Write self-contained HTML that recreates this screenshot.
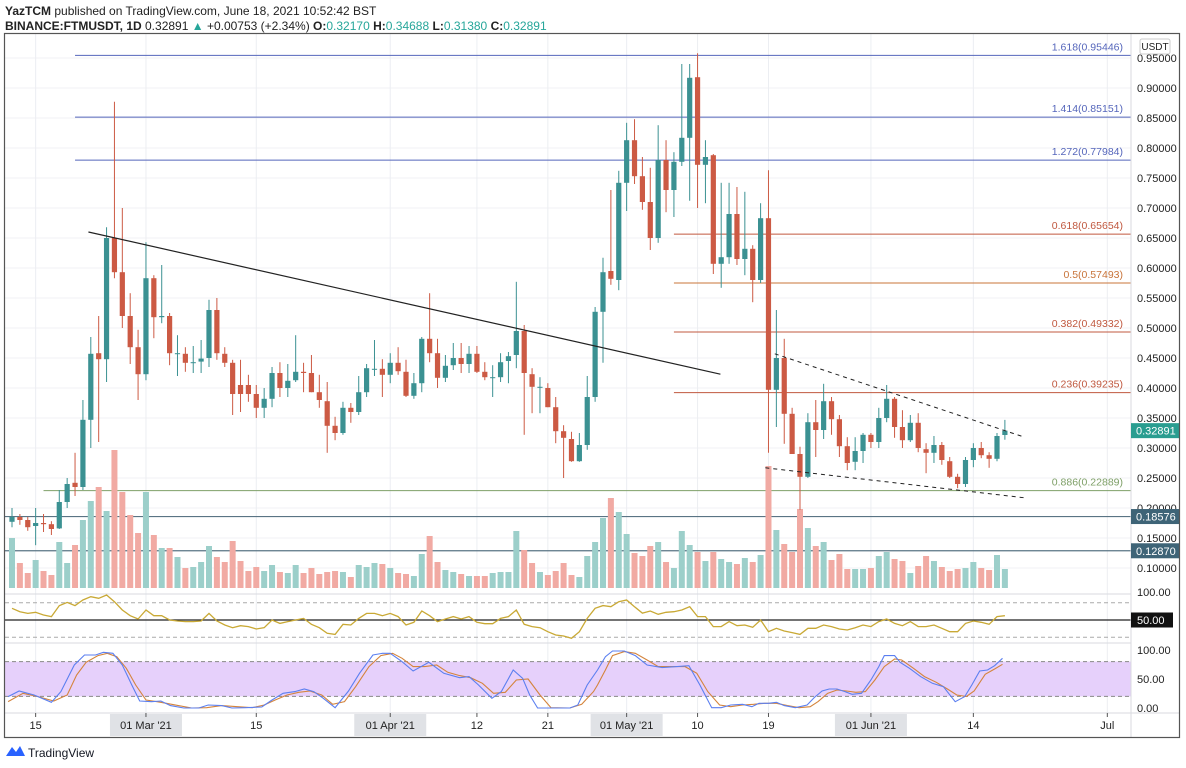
<!DOCTYPE html>
<html><head><meta charset="utf-8"><style>
html,body{margin:0;padding:0;background:#fff;width:1186px;height:768px;overflow:hidden;font-family:"Liberation Sans",sans-serif}
svg{display:block}
</style></head><body>
<svg id="chart" width="1186" height="768" viewBox="0 0 1186 768" xmlns="http://www.w3.org/2000/svg" font-family="Liberation Sans, sans-serif">
<text x="5" y="15" font-size="12" fill="#222"><tspan font-weight="bold">YazTCM</tspan> published on TradingView.com, June 18, 2021 10:52:42 BST</text>
<text x="5" y="30" font-size="12" fill="#222"><tspan font-weight="bold">BINANCE:FTMUSDT, 1D</tspan> 0.32891 <tspan fill="#26a69a">▲</tspan> +0.00753 (+2.34%) <tspan font-weight="bold">O:</tspan><tspan fill="#26a69a">0.32170</tspan> <tspan font-weight="bold">H:</tspan><tspan fill="#26a69a">0.34688</tspan> <tspan font-weight="bold">L:</tspan><tspan fill="#26a69a">0.31380</tspan> <tspan font-weight="bold">C:</tspan><tspan fill="#26a69a">0.32891</tspan></text>
<g id="grid"></g>
<g id="levels"></g>
<g id="vol"></g>
<g id="candles"></g>
<g id="lines"></g>
<g id="panes"></g>
<g id="axes"></g>
<rect x="4.5" y="33.5" width="1175" height="704" fill="none" stroke="#555" stroke-width="1.2"/>
<g>
<path d="M6 756 L12 747 L16 752 L20 746 L25 756 Z" fill="#2962ff"/>
<text x="28" y="757" font-size="12" fill="#131722">TradingView</text>
</g>
</svg>
<script>
// ---------- data ----------
const opens=[.177,.185,.180,.170,.175,.173,.166,.21,.242,.235,.347,.458,.448,.65,.593,.52,.468,.423,.583,.518,.52,.458,.457,.443,.444,.45,.53,.457,.442,.405,.405,.39,.367,.382,.425,.40,.413,.427,.425,.393,.378,.337,.325,.367,.36,.393,.432,.432,.422,.442,.427,.387,.408,.482,.458,.417,.438,.45,.44,.457,.427,.418,.418,.445,.455,.495,.423,.402,.40,.368,.328,.315,.278,.305,.385,.527,.595,.58,.742,.813,.753,.71,.65,.78,.73,.777,.817,.918,.772,.788,.607,.618,.69,.615,.632,.58,.683,.397,.45,.357,.29,.252,.343,.33,.378,.348,.303,.277,.295,.322,.31,.35,.382,.335,.313,.342,.298,.292,.305,.278,.252,.24,.28,.30,.288,.282,.3217];
const highs=[.20,.19,.185,.20,.19,.178,.23,.25,.292,.38,.485,.52,.668,.877,.70,.558,.497,.643,.588,.605,.525,.488,.468,.47,.48,.547,.55,.468,.447,.447,.422,.405,.40,.435,.443,.44,.488,.442,.455,.422,.41,.352,.377,.375,.42,.44,.48,.448,.458,.468,.447,.425,.485,.558,.482,.455,.475,.475,.47,.47,.443,.438,.458,.46,.577,.505,.433,.418,.408,.385,.338,.327,.325,.42,.535,.617,.73,.762,.842,.848,.785,.767,.838,.813,.793,.94,.94,.958,.813,.79,.742,.742,.735,.727,.638,.708,.763,.53,.482,.367,.302,.358,.38,.407,.385,.355,.318,.318,.325,.325,.367,.405,.385,.363,.355,.358,.308,.32,.31,.285,.257,.285,.308,.31,.293,.325,.34688];
const lows=[.168,.172,.162,.138,.16,.155,.165,.20,.22,.23,.30,.31,.41,.583,.50,.44,.38,.413,.483,.508,.438,.42,.427,.425,.425,.435,.447,.435,.355,.36,.377,.35,.35,.368,.385,.385,.41,.393,.393,.367,.292,.313,.322,.342,.355,.385,.42,.385,.408,.422,.385,.382,.393,.443,.40,.41,.43,.425,.425,.425,.413,.385,.41,.408,.433,.322,.358,.358,.368,.308,.25,.277,.277,.297,.377,.442,.572,.563,.695,.74,.697,.63,.642,.693,.685,.77,.712,.70,.708,.59,.567,.607,.605,.588,.543,.575,.292,.335,.307,.29,.197,.25,.285,.315,.322,.285,.263,.263,.275,.30,.30,.343,.317,.30,.31,.293,.258,.275,.272,.25,.233,.235,.268,.283,.267,.278,.3138];
const closes=[.185,.180,.168,.175,.173,.165,.21,.24,.235,.347,.457,.448,.65,.593,.52,.468,.423,.583,.518,.52,.458,.458,.442,.443,.449,.53,.458,.442,.39,.39,.39,.367,.382,.425,.40,.412,.427,.425,.393,.38,.337,.325,.367,.36,.393,.433,.432,.422,.442,.428,.387,.408,.482,.458,.417,.437,.45,.44,.457,.427,.418,.418,.443,.453,.495,.425,.402,.402,.368,.328,.317,.278,.305,.385,.527,.593,.582,.742,.813,.753,.71,.65,.78,.73,.777,.817,.917,.772,.785,.607,.618,.69,.615,.632,.58,.683,.397,.45,.357,.29,.252,.343,.33,.378,.348,.303,.275,.295,.322,.31,.35,.382,.335,.313,.342,.30,.292,.305,.28,.252,.24,.28,.30,.288,.282,.32,.32891];
const volumes=[50,25,15,28,17,13,46,25,43,68,87,101,77,138,96,73,55,96,53,40,40,31,20,21,26,42,31,26,47,27,17,21,17,23,16,15,23,15,20,14,16,17,16,11,23,21,25,24,20,15,14,12,34,52,26,18,16,14,12,12,12,15,16,16,57,38,25,16,13,17,25,13,11,32,46,70,90,76,54,35,32,42,46,26,20,57,43,36,27,36,29,26,24,30,26,33,122,58,44,36,79,60,42,46,28,34,19,19,19,20,32,36,29,27,15,22,32,27,21,17,19,20,26,20,18,33,19];
const rsiValues=[63.6,59.7,57.7,58.9,55.8,53.9,66.7,70.5,66.7,73.3,77.1,75.2,79.1,71.3,61.6,55.0,51.2,61.6,55.0,55.0,50.0,48.8,48.1,48.1,48.8,57.7,48.8,44.2,41.1,43.4,42.3,39.5,41.1,50.0,46.1,48.1,50.0,51.9,45.0,41.1,34.5,33.3,45.0,44.2,51.9,57.7,57.7,55.0,57.7,53.9,44.2,47.3,60.5,55.0,48.1,51.2,53.9,51.2,53.9,47.3,45.7,45.7,51.9,53.9,61.6,45.0,42.3,41.1,36.4,32.6,31.4,28.7,36.4,51.9,63.6,66.7,65.5,71.3,73.3,65.5,58,60.5,56.6,58.9,59.7,61.6,65.5,53.9,53.9,42.3,42.3,48.1,43.4,44.2,41.5,50.0,36.4,40.3,37.2,35.3,33.3,40.3,40.3,44.2,42.3,39.5,38.4,41.1,44.2,42.3,48.1,51.2,46.1,43.4,48.1,42.3,42.3,44.2,40.3,36.4,36.4,46.1,48.8,47.3,45.0,53.9,55.0];
const stochKDay=[-0.8,0.9,2.8,5.0,6.2,7.9,9.2,10.6,11.6,12.8,14.0,15.2,16.2,17.7,18.9,20.1,21.8,23.7,24.9,26.6,27.9,29.6,31.7,33.0,34.4,35.9,37.1,38.3,39.5,41.0,42.7,44.1,45.8,47.0,48.0,49.5,50.9,52.9,54.8,56.8,58.0,59.2,60.9,62.1,63.6,64.8,65.7,66.7,68.7,70.8,71.8,73.0,74.3,75.3,76.2,77.7,79.1,80.6,82.5,84.4,85.9,87.3,88.8,90.0,91.2,92.7,93.9,94.8,96.0,97.0,98.0,99.4,100.9,101.8,102.8,103.7,104.7,105.7,106.6,107.8,109.0,110.0,110.7,112.0,112.7,113.9,115.3,116.8,118.2,119.7,120.9,121.8,122.8,123.8,124.7,125.7];
const stochK=[19.6,29.3,22.4,9.8,28.2,74.2,91.4,91.4,96.0,94.3,74.2,39.7,12.1,10.9,12.1,4.1,0,0,5.2,4.1,0,0.6,1.8,13.8,25.3,28.2,32.8,28.2,16.7,0.6,29.3,59.8,91.4,94.3,94.3,79.9,63.8,78.8,59.8,52.3,54.1,39.7,16.7,28.2,65.6,51.2,22.4,0,0,0,5.2,39.7,65.6,88.5,98.3,98.3,90.3,74.2,69.6,71.3,73.0,39.7,0.6,0.6,5.2,6.4,2.3,8.1,8.1,9.8,4.1,0.6,5.2,17.9,29.3,32.8,32.8,28.2,23.6,25.3,48.3,71.3,90.3,90.3,78.8,68.4,54.1,42.6,36.8,10.9,19.6,39.7,63.8,65.6,73.0,85.7];
const stochDDay=[-0.8,1.4,3.3,5.3,7.0,8.2,9.4,10.9,12.1,13.3,14.5,15.7,17.0,18.4,19.6,21.1,22.8,24.7,26.6,28.6,30.5,32.0,33.4,34.9,36.4,37.8,39.3,40.7,42.2,43.6,45.3,46.8,48.3,49.5,50.9,52.4,53.9,55.3,56.8,58.2,59.7,61.1,62.6,64.0,65.5,67.0,68.4,70.8,72.3,73.8,74.3,75.3,76.2,77.7,79.1,80.6,82.0,84.0,85.4,86.9,88.3,89.8,91.2,92.7,94.1,95.5,97.0,98.4,99.9,101.3,102.3,103.5,104.7,105.9,107.1,108.3,109.5,110.7,112.0,112.9,114.4,115.8,117.3,118.7,119.9,121.1,122.1,123.5,124.7,125.7];
const stochD=[11.0,25.3,19.6,12.1,22.4,56.9,78.8,90.3,94.3,88.5,68.4,39.7,13.8,10.9,8.1,4.1,0,0.6,4.1,2.3,0.6,5.2,13.8,22.4,27.0,29.3,22.4,6.4,11.0,36.8,71.3,90.3,94.3,85.7,71.3,71.3,74.2,61.5,55.8,52.3,42.6,25.3,27.0,48.3,50.0,22.4,0.6,0,6.4,28.2,39.7,65.6,90.3,97.2,94.3,82.8,71.3,71.3,71.3,59.8,28.2,5.2,2.3,5.2,6.4,8.1,8.1,4.1,0.6,2.3,11.0,25.3,31.1,29.3,27.0,28.2,48.3,71.3,84.5,82.8,68.4,54.1,44.3,32.8,22.4,19.6,29.3,58.1,67.3,75.3];
const priceTicks=[0.95,0.90,0.85,0.80,0.75,0.70,0.65,0.60,0.55,0.50,0.45,0.40,0.35,0.30,0.25,0.20,0.15,0.10];
const dateLabels=["15","01 Mar '21","15","01 Apr '21","12","21","01 May '21","10","19","01 Jun '21","14","Jul"];
const dateDays=[3,17,31,48,59,68,78,87,96,109,122,139];
const fibNames=["1.618","1.414","1.272","0.618","0.5","0.382","0.236","0.886"];
const fibPrices=[0.95446,0.85151,0.77984,0.65654,0.57493,0.49332,0.39235,0.22889];
const fibStartDay=[8,8,8,84,84,84,84,4];
const supportPrices=[0.18576,0.12870];
const lastPrice=0.32891;

// ---------- scales ----------
const X0=12, DX=7.88, AXIS_X=1131;
const xs=d=>X0+d*DX;
const ys=p=>58+(0.95-p)*600;
const yRsi=v=>620-(v-50)*0.86;
const ySt=v=>708-v*0.58;
const NS="http://www.w3.org/2000/svg";
function mk(tag,attrs,parent){const e=document.createElementNS(NS,tag);for(const k in attrs)e.setAttribute(k,attrs[k]);parent.appendChild(e);return e;}
const G=id=>document.getElementById(id);
const fmt=v=>v.toFixed(5);

// grid
const grid=G('grid');
priceTicks.forEach(p=>{const l=mk('line',{x1:5,x2:AXIS_X,y1:ys(p),y2:ys(p),stroke:'#f0f1f4','stroke-width':1},grid);

});
dateDays.forEach(d=>{const l=mk('line',{x1:xs(d),x2:xs(d),y1:34,y2:713,stroke:'#eceef2','stroke-width':1},grid);

});

// levels
const lv=G('levels');
const fibColors=['#5566bb','#5566bb','#5566bb','#c0583f','#c8743a','#c0583f','#c0583f','#7fa068'];
fibPrices.forEach((p,i)=>{
 const l=mk('line',{x1:xs(fibStartDay[i]),x2:AXIS_X,y1:ys(p),y2:ys(p),stroke:fibColors[i],'stroke-width':1},lv);
 
 
 const t=mk('text',{x:1123,y:ys(p)-5,'text-anchor':'end','font-size':10.5,fill:fibColors[i]},lv);
 t.textContent=fibNames[i]+'('+fmt(p)+')';
 
 
});
supportPrices.forEach(p=>{
 const l=mk('line',{x1:5,x2:AXIS_X,y1:ys(p),y2:ys(p),stroke:'#5a7484','stroke-width':1.2},lv);
 
 
});

// volume
const vg=G('vol');
volumes.forEach((v,i)=>{
 const up=closes[i]>=opens[i];
 const r=mk('rect',{x:xs(i)-3,y:588-v,width:6,height:v,fill:up?'#9ccfca':'#f1aaa3'},vg);
 
 
});

// candles
const cg=G('candles');
opens.forEach((o,i)=>{
 const c=closes[i],up=c>=o,col=up?'#3b9192':'#cc5a44',x=xs(i);
 const g=mk('g',{},cg);
 
 
 mk('line',{x1:x,x2:x,y1:ys(highs[i]),y2:ys(lows[i]),stroke:col,'stroke-width':1},g);
 const top=ys(Math.max(o,c)),bot=ys(Math.min(o,c));
 mk('rect',{x:x-2.6,y:top,width:5.2,height:Math.max(1,bot-top),fill:col},g);
});

// trend lines
const ln=G('lines');
let t1=mk('line',{x1:xs(9.7),y1:ys(0.66),x2:xs(89.9),y2:ys(0.423),stroke:'#222','stroke-width':1.2},ln);


let t2=mk('line',{x1:xs(96.8),y1:ys(0.457),x2:xs(128.5),y2:ys(0.318),stroke:'#222','stroke-width':1,'stroke-dasharray':'4,4'},ln);


let t3=mk('line',{x1:xs(95.6),y1:ys(0.267),x2:xs(128.5),y2:ys(0.217),stroke:'#222','stroke-width':1,'stroke-dasharray':'4,4'},ln);



// panes
const pn=G('panes');
mk('line',{x1:5,x2:1180,y1:594,y2:594,stroke:'#d8dadf'},pn);
mk('line',{x1:5,x2:1180,y1:643,y2:643,stroke:'#d8dadf'},pn);
[70,30].forEach(v=>mk('line',{x1:5,x2:AXIS_X,y1:yRsi(v),y2:yRsi(v),stroke:'#aaa','stroke-dasharray':'4,3'},pn));
mk('line',{x1:5,x2:AXIS_X,y1:yRsi(50),y2:yRsi(50),stroke:'#222','stroke-width':1.2},pn);
const rsiPath=rsiValues.map((v,i)=>(i?'L':'M')+xs(i).toFixed(1)+' '+yRsi(v).toFixed(1)).join(' ');
let rp=mk('path',{d:rsiPath,fill:'none',stroke:'#c9a935','stroke-width':1.3},pn);


let band=mk('rect',{x:5,y:ySt(80),width:AXIS_X-5,height:ySt(20)-ySt(80),fill:'#e6d0fb'},pn);


[80,20].forEach(v=>mk('line',{x1:5,x2:AXIS_X,y1:ySt(v),y2:ySt(v),stroke:'#888','stroke-dasharray':'4,3'},pn));
const kPath=stochK.map((v,i)=>(i?'L':'M')+xs(Math.max(-0.5,stochKDay[i])).toFixed(1)+' '+ySt(v).toFixed(1)).join(' ');
const dPath=stochD.map((v,i)=>(i?'L':'M')+xs(Math.max(-0.5,stochDDay[i])).toFixed(1)+' '+ySt(v).toFixed(1)).join(' ');
let dp=mk('path',{d:dPath,fill:'none',stroke:'#d4843c','stroke-width':1.1},pn);


let kp=mk('path',{d:kPath,fill:'none',stroke:'#5b7ff0','stroke-width':1.1},pn);



// axes
const ax=G('axes');
mk('rect',{x:AXIS_X,y:34,width:49,height:679,fill:'#fff'},ax);
mk('line',{x1:AXIS_X,x2:AXIS_X,y1:34,y2:738,stroke:'#d8dadf'},ax);
mk('line',{x1:5,x2:1180,y1:713,y2:713,stroke:'#d8dadf'},ax);
let ub=mk('rect',{x:1140,y:39,width:30,height:15,rx:2,fill:'#fff',stroke:'#ccc'},ax);
let ut=mk('text',{x:1155,y:50,'text-anchor':'middle','font-size':10,fill:'#222'},ax);ut.textContent='USDT';


priceTicks.forEach(p=>{
 const t=mk('text',{x:1137,y:ys(p)+4,'font-size':11,fill:'#222'},ax);t.textContent=fmt(p);
 
 
});
function box(p,bg,label,y){
 const g=mk('g',{},ax);
 
 
 mk('rect',{x:AXIS_X,y:y-7.5,width:49,height:15,fill:bg},g);
 const t=mk('text',{x:1136,y:y+4,'font-size':11,fill:'#fff'},g);t.textContent=label;
}
supportPrices.forEach(p=>box(p,'#3e6477',fmt(p),ys(p)));
box(lastPrice,'#2a9d90',fmt(lastPrice),ys(lastPrice));
[[100,'100.00'],[50,'50.00']].forEach(([v,s])=>{
 if(v===50){mk('rect',{x:AXIS_X,y:yRsi(50)-7.5,width:42,height:15,fill:'#111'},ax);}
 const t=mk('text',{x:1137,y:(v===100?592:yRsi(50))+4,'font-size':11,fill:v===50?'#fff':'#222'},ax);t.textContent=s;
 
 
});
[[100,'100.00'],[50,'50.00'],[0,'0.00']].forEach(([v,s])=>{
 const t=mk('text',{x:1137,y:ySt(v)+4,'font-size':11,fill:'#222'},ax);t.textContent=s;
 
 
});
dateLabels.forEach((s,i)=>{
 const x=xs(dateDays[i]);
 if(s.indexOf("'")>=0){mk('rect',{x:x-36,y:714,width:72,height:22,fill:'#e0e2e6'},ax);}
 mk('line',{x1:x,x2:x,y1:713,y2:717,stroke:'#555'},ax);
 const t=mk('text',{x:x,y:729,'text-anchor':'middle','font-size':11,fill:'#222'},ax);t.textContent=s;
 
 
});
</script>
</body></html>
